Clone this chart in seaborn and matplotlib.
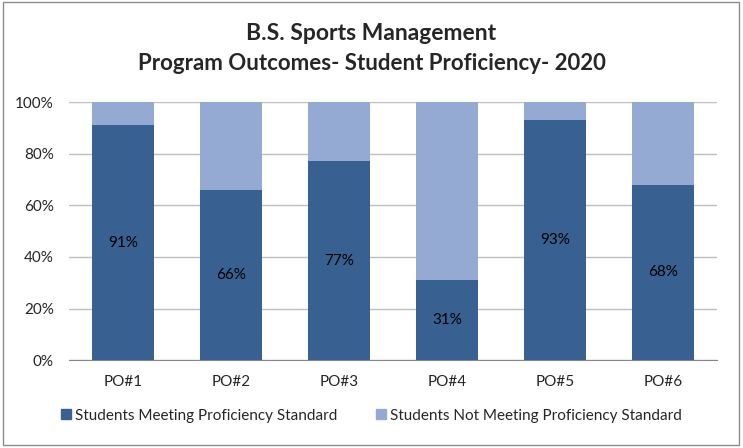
import pandas as pd
import matplotlib.pyplot as plt
import seaborn as sns
from matplotlib.patches import Patch, Rectangle

# data
outcomes = ["PO#1", "PO#2", "PO#3", "PO#4", "PO#5", "PO#6"]
meeting = [91, 66, 77, 31, 93, 68]
not_meeting = [9, 34, 23, 69, 7, 32]

dark_blue = "#386192"
light_blue = "#95AAD2"

df = pd.DataFrame({"outcome": outcomes, "meeting": meeting, "not_meeting": not_meeting})
df["total"] = df["meeting"] + df["not_meeting"]

sns.set_style("white")
plt.rcParams["font.family"] = ["Lato", "DejaVu Sans"]

fig = plt.figure(figsize=(7.43, 4.48), dpi=100)
ax = fig.add_axes([0.093, 0.196, 0.872, 0.576])

# stacked: draw the full column first, then the meeting part on top of it
sns.barplot(data=df, x="outcome", y="total", color=light_blue, width=0.57,
            saturation=1, linewidth=0, ax=ax, zorder=3)
sns.barplot(data=df, x="outcome", y="meeting", color=dark_blue, width=0.57,
            saturation=1, linewidth=0, ax=ax, zorder=3)

for i, v in enumerate(df["meeting"]):
    ax.text(i, v / 2, f"{v}%", ha="center", va="center", fontsize=11, color="black", zorder=4)

ax.set_ylim(0, 100)
ax.set_xlim(-0.5, 5.5)
ax.set_yticks(range(0, 101, 20))
ax.set_yticklabels([f"{t}%" for t in range(0, 101, 20)], fontsize=11)
ax.tick_params(axis="x", labelsize=11, pad=11, length=0)
ax.tick_params(axis="y", length=0, pad=11)
ax.yaxis.grid(True, color="#BFBFBF", linewidth=1, zorder=0)
ax.set_xlabel("")
ax.set_ylabel("")
for side in ["top", "right", "left"]:
    ax.spines[side].set_visible(False)
ax.spines["bottom"].set_color("#888888")

fig.text(0.5, 0.925, "B.S. Sports Management", ha="center", va="center",
         fontsize=16.5, fontweight="bold")
fig.text(0.5, 0.858, "Program Outcomes- Student Proficiency- 2020", ha="center", va="center",
         fontsize=16, fontweight="bold")

handles = [Patch(color=dark_blue, label="Students Meeting Proficiency Standard"),
           Patch(color=light_blue, label="Students Not Meeting Proficiency Standard")]
fig.legend(handles=handles, loc="center", bbox_to_anchor=(0.5, 0.072), ncol=2,
           frameon=False, fontsize=11, handlelength=0.65, handleheight=0.65,
           handletextpad=0.3, columnspacing=2.5)

fig.patches.append(Rectangle((0.004, 0.006), 0.99, 0.99, transform=fig.transFigure,
                             fill=False, edgecolor="#8C8C8C", linewidth=1))

fig.savefig("out.png", dpi=100)
